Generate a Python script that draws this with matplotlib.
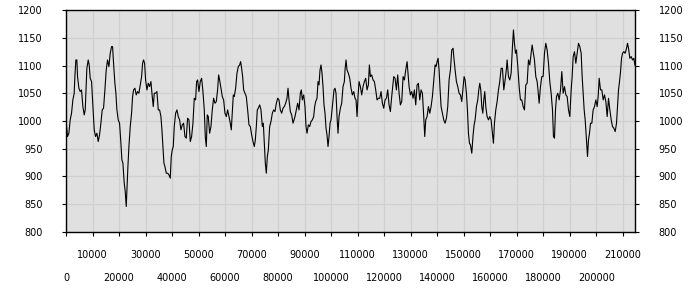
import matplotlib
matplotlib.use("Agg")
import matplotlib.pyplot as plt
from matplotlib.ticker import FixedLocator, FuncFormatter

# sample positions (thousands) and values
x_k = [
    0.0, 0.58, 1.08, 1.58, 2.09, 2.59, 3.09, 3.35, 3.72, 4.10, 4.35, 4.86, 5.36, 5.86, 6.36, 6.87,
    7.25, 7.62, 7.87, 8.38, 8.75, 9.13, 9.64, 10.14, 10.64, 11.15, 11.65, 12.15, 12.65, 13.16,
    13.66, 14.16, 14.67, 15.17, 15.67, 16.18, 16.68, 17.18, 17.56, 17.94, 18.44, 18.82, 19.20,
    19.70, 20.20, 20.71, 21.08, 21.46, 21.96, 22.34, 22.72, 22.97, 23.35, 23.73, 24.23, 24.73,
    25.11, 25.49, 25.99, 26.49, 27.00, 27.50, 28.00, 28.51, 28.88, 29.26, 29.64, 30.02, 30.52,
    31.02, 31.52, 32.03, 32.53, 32.91, 33.29, 33.79, 34.29, 34.80, 35.30, 35.80, 36.18, 36.56,
    36.93, 37.31, 37.81, 38.32, 38.82, 39.32, 39.70, 40.08, 40.46, 40.83, 41.34, 41.84, 42.34,
    42.85,
    43.35, 43.85, 44.35, 44.86, 45.36, 45.86, 46.37, 46.87, 47.37, 47.88, 48.38, 48.88, 49.26,
    49.64, 50.14, 50.64, 51.15, 51.65, 52.15, 52.53, 52.91, 53.28, 53.66, 54.17, 54.67, 55.17,
    55.67, 56.18, 56.68, 57.18, 57.56, 57.94, 58.44, 58.95, 59.45, 59.95, 60.46, 60.96, 61.46,
    61.96, 62.34, 62.72, 63.10, 63.47, 63.98, 64.48, 64.98, 65.49, 65.86, 66.24, 66.62, 67.00,
    67.50, 68.00, 68.51, 69.01, 69.51, 70.02, 70.52, 71.02, 71.40, 71.78, 72.15, 72.53, 73.04,
    73.54, 74.04, 74.42, 74.80, 75.17, 75.55, 75.93, 76.31, 76.81, 77.31, 77.82, 78.32, 78.82,
    79.33, 79.83, 80.33, 80.83, 81.34, 81.84, 82.34, 82.85, 83.35, 83.73, 84.11, 84.61, 85.11,
    85.62,
    86.37, 86.87, 87.37, 87.88, 88.38, 88.76, 89.13, 89.64, 90.14, 90.52, 90.90, 91.40, 91.90,
    92.40, 92.91, 93.41, 93.79, 94.17, 94.67, 95.05, 95.42, 95.80, 96.18, 96.56, 96.93, 97.31,
    97.69, 98.07, 98.44, 98.82, 99.20, 99.58, 99.95, 100.33, 100.71, 101.09, 101.46, 101.84,
    102.22, 102.59, 102.97, 103.48, 103.98, 104.48, 104.98, 105.24, 105.61, 105.99, 106.49,
    107.00, 107.50, 108.00, 108.51, 109.01, 109.39, 109.77, 110.14, 110.52, 111.02, 111.53,
    112.03, 112.53, 113.04, 113.54, 114.04, 114.42, 114.80, 115.30, 115.80, 116.31, 116.81,
    117.31, 117.82, 118.32, 118.82, 119.33, 119.83, 120.33, 120.84, 121.34, 121.84, 122.35,
    122.72, 123.10, 123.60, 124.11, 124.61, 125.11, 125.62, 126.12, 126.62, 127.13, 127.63,
    128.13, 128.64,
    129.39, 129.89, 130.39, 130.90, 131.40, 131.90, 132.41, 132.91, 133.41, 133.92, 134.42,
    134.92, 135.30, 135.68, 136.18, 136.68, 137.19, 137.69, 138.19, 138.70, 139.20, 139.58,
    139.95, 140.33, 140.71, 141.09, 141.46, 141.97, 142.47, 142.97, 143.48, 143.98, 144.48,
    144.99, 145.49, 145.99, 146.37, 146.75, 147.25, 147.75, 148.26, 148.76, 149.26, 149.77,
    150.14, 150.52, 151.02, 151.40, 151.78, 152.16, 152.53, 153.04, 153.54, 153.92, 154.29,
    154.80, 155.30, 155.68, 156.06, 156.43, 156.81, 157.19, 157.57, 157.94, 158.32, 158.82,
    159.33, 159.83, 160.33, 160.84, 161.21, 161.59, 162.09, 162.60, 163.10, 163.60, 164.11,
    164.61, 165.11, 165.62, 166.12, 166.37, 166.87, 167.38, 167.88, 168.38, 168.76, 169.14,
    169.52, 169.89, 170.40, 170.90, 171.40,
    171.90, 172.41, 172.91, 173.41, 173.92, 174.42, 174.92, 175.43, 175.80, 176.18, 176.68,
    177.19, 177.69, 178.07, 178.44, 178.95, 179.45, 179.95, 180.46, 180.96, 181.46, 181.97,
    182.47, 182.97, 183.48, 183.85, 184.23, 184.61, 184.99, 185.49, 185.99, 186.50, 187.00,
    187.50, 188.01, 188.51, 189.01, 189.52, 190.02, 190.52, 190.90, 191.28, 191.78, 192.28,
    192.79, 193.29, 193.79, 194.30, 194.67, 195.05, 195.43, 195.81, 196.31, 196.69, 197.06,
    197.44, 197.82, 198.32, 198.82, 199.33, 199.83, 200.33, 200.71, 201.09, 201.59, 202.10,
    202.60, 203.10, 203.60, 204.11, 204.61, 205.11, 205.62, 206.12, 206.62, 207.13, 207.63,
    208.01, 208.38, 208.76, 209.14, 209.52, 209.89, 210.40, 210.90, 211.40, 211.78, 212.16,
    212.66, 213.17, 213.67, 214.17, 214.55,
]

values = [
    1002, 972, 978, 1002, 1014, 1038, 1050, 1080, 1110, 1110, 1080, 1059, 1053, 1056, 1026, 1011,
    1020, 1062, 1095, 1110, 1101, 1077, 1071, 1026, 984, 972, 978, 963, 975, 996,
    1020, 1023, 1056, 1092, 1110, 1098, 1122, 1134, 1134, 1104, 1068, 1050, 1020,
    1002, 996, 960, 930, 924, 888, 873, 846, 876, 918, 954, 990, 1014,
    1044, 1056, 1059, 1047, 1053, 1050, 1065, 1080, 1104, 1110, 1104, 1074, 1056,
    1068, 1062, 1071, 1044, 1026, 1050, 1050, 1053, 1020, 1020, 1008, 984, 954,
    924, 918, 906, 906, 903, 897, 936, 948, 954, 990, 1014, 1020, 1008,
    1002,
    984, 993, 996, 972, 969, 1005, 1002, 963, 972, 996, 1041, 1038, 1071,
    1074, 1053, 1071, 1077, 1053, 1020, 972, 954, 1011, 1008, 978, 990, 1020,
    1041, 1032, 1035, 1056, 1083, 1074, 1059, 1044, 1038, 1014, 1008, 1020, 1008,
    996, 984, 1014, 1047, 1044, 1059, 1086, 1098, 1101, 1107, 1095, 1080, 1056,
    1050, 1044, 1020, 993, 990, 975, 963, 954, 966, 990, 1020, 1023, 1029,
    1020, 990, 996, 960, 924, 906, 936, 948, 990, 999, 1014, 1020, 1017,
    1032, 1041, 1038, 1020, 1014, 1023, 1026, 1032, 1041, 1059, 1038, 1017, 1011,
    996,
    1008, 1020, 1032, 1020, 1050, 1056, 1038, 1047, 1026, 990, 978, 993, 990,
    999, 1002, 1008, 1026, 1035, 1041, 1071, 1065, 1092, 1101, 1086, 1062, 1029,
    1014, 987, 975, 954, 972, 996, 1002, 1020, 1038, 1056, 1059, 1050,
    1008, 978, 1008, 1023, 1032, 1062, 1071, 1092, 1110, 1092, 1086,
    1077, 1059, 1047, 1053, 1041, 1038, 1008, 1044, 1071, 1062, 1047,
    1062, 1071, 1077, 1056, 1065, 1101, 1080, 1083, 1074, 1071, 1056,
    1038, 1041, 1041, 1053, 1032, 1023, 1038, 1041, 1056, 1029, 1017,
    1038, 1056, 1080, 1077, 1056, 1083, 1050, 1029, 1035, 1080, 1074,
    1092, 1107,
    1062, 1047, 1053, 1041, 1056, 1029, 1065, 1068, 1038, 1056, 1050,
    1008, 972, 1002, 1008, 1026, 1014, 1026, 1044, 1074, 1101, 1098,
    1107, 1113, 1092, 1056, 1026, 1014, 1002, 996, 1005, 1026, 1074,
    1092, 1128, 1131, 1110, 1092, 1071, 1062, 1050, 1047, 1035, 1062,
    1080, 1074, 1050, 1020, 978, 960, 957, 942, 975, 993, 1002,
    1026, 1038, 1056, 1068, 1056, 1026, 1014, 1038, 1053, 1026, 1008,
    1002, 1008, 1002, 978, 960, 996, 1020, 1035, 1056, 1071, 1095,
    1095, 1056, 1074, 1095, 1110, 1080, 1074, 1086, 1134, 1164, 1140,
    1122, 1128, 1098, 1062, 1038,
    1038, 1026, 1020, 1065, 1068, 1110, 1101, 1122, 1137, 1125, 1110,
    1080, 1071, 1053, 1032, 1062, 1080, 1080, 1122, 1140, 1128, 1104,
    1071, 1050, 1020, 972, 969, 1020, 1044, 1050, 1038, 1056, 1089,
    1050, 1062, 1047, 1044, 1020, 1008, 1056, 1080, 1116, 1125, 1104,
    1122, 1140, 1134, 1122, 1080, 1050, 1020, 1002, 966, 936, 966,
    978, 996, 996, 1020, 1026, 1038, 1026, 1044, 1077, 1056, 1056,
    1038, 1047, 1035, 1008, 1041, 1020, 1002, 990, 987, 981, 996,
    1026, 1056, 1071, 1089, 1113, 1122, 1125, 1122, 1131, 1140, 1131,
    1113, 1116, 1110, 1113, 1101,
]

x_ticks_row1 = [10000, 30000, 50000, 70000, 90000, 110000, 130000, 150000, 170000, 190000, 210000]
x_ticks_row2 = [0, 20000, 40000, 60000, 80000, 100000, 120000, 140000, 160000, 180000, 200000]
y_ticks = [800, 850, 900, 950, 1000, 1050, 1100, 1150, 1200]

xs = [v * 1000 for v in x_k]

fig = plt.figure(figsize=(7, 3), dpi=100)
ax = fig.add_axes([66 / 700, 68 / 300, 569 / 700, 222 / 300])
ax.set_facecolor("#e0e0e0")
ax.plot(xs, values, color="black", lw=0.8)

ax.set_xlim(0, 214600)
ax.set_ylim(800, 1200)

ax.xaxis.set_major_locator(FixedLocator(x_ticks_row1))
ax.xaxis.set_minor_locator(FixedLocator(x_ticks_row2))
ax.xaxis.set_major_formatter(FuncFormatter(lambda v, p: f"{int(v)}"))
ax.xaxis.set_minor_formatter(FuncFormatter(lambda v, p: f"{int(v)}"))
ax.set_yticks(y_ticks)

ax.grid(True, which="both", color="#d0d0d0", lw=0.9)
ax.set_axisbelow(True)

ax.tick_params(axis="x", which="major", length=3, width=0.8, pad=10, labelsize=7)
ax.tick_params(axis="x", which="minor", length=3, width=0.8, pad=26.5, labelsize=7)
ax.tick_params(axis="y", length=3, width=0.8, labelsize=7, right=True, labelright=True, pad=14)

for s in ax.spines.values():
    s.set_color("black")
    s.set_linewidth(1.0)

fig.savefig("out.png", dpi=100)
